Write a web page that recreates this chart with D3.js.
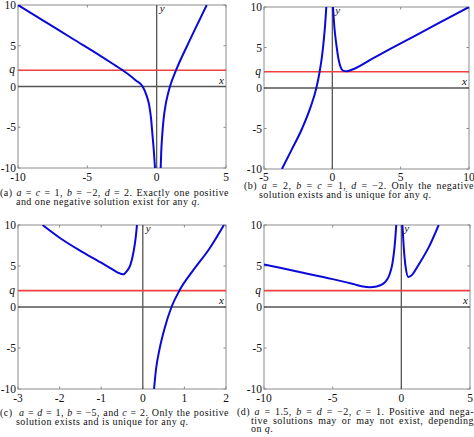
<!DOCTYPE html>
<html>
<head>
<meta charset="utf-8">
<script src="https://cdn.jsdelivr.net/npm/d3@7"></script>
<style>
  body { margin: 0; background: #fff; }
  svg { display: block; }
  text { font-family: "Liberation Serif", "DejaVu Serif", serif; fill: #111; }
</style>
</head>
<body>
<svg id="chart" width="474" height="437"></svg>
<script>

// ---- data ----
const yTicks = [-10, -5, 0, 5, 10];
const qValue = 2;

const xDomainA = [-10, 5], xTicksA = [-10, -5, 0, 5];
const curveA = [
  [[-10, 10], [-8, 7.9], [-6, 5.8], [-4, 3.7], [-3, 2.6], [-2.46, 2], [-2, 1.45], [-1.5, 0.75],
   [-1.01, 0], [-0.75, -1], [-0.55, -2.2], [-0.4, -4], [-0.3, -6], [-0.2, -8], [-0.12, -10]],
  [[0.29, -10], [0.33, -8], [0.4, -6], [0.5, -4], [0.65, -2.2], [0.8, -1], [0.96, 0],
   [1.4, 2], [2.2, 5], [2.9, 7.5], [3.61, 10]]
];

const xDomainB = [-5, 10], xTicksB = [-5, 0, 5, 10];
const curveB = [
  [[-3.69, -10], [-3, -7.7], [-2.21, -5], [-1.6, -2.4], [-1.17, 0], [-0.93, 2], [-0.75, 4],
   [-0.62, 6], [-0.52, 8], [-0.44, 10]],
  [[0.05, 10], [0.15, 7.5], [0.3, 5.3], [0.45, 3.6], [0.6, 2.6], [0.78, 2.15], [1.05, 2.08],
   [1.42, 2.25], [3, 3.7], [5, 5.5], [7.5, 7.75], [10, 10]]
];

const xDomainC = [-3, 2], xTicksC = [-3, -2, -1, 0, 1, 2];
const curveC = [
  [[-2.41, 10], [-2, 8.45], [-1.5, 6.85], [-1, 5.4], [-0.75, 4.65], [-0.6, 4.2], [-0.47, 3.98],
   [-0.38, 4.4], [-0.3, 5.1], [-0.22, 6.8], [-0.17, 8.5], [-0.14, 10]],
  [[0.27, -10], [0.32, -7.5], [0.4, -5.2], [0.53, -2.5], [0.69, 0], [0.88, 2], [1.2, 4.4],
   [1.6, 7.1], [1.95, 10]]
];

const xDomainD = [-10, 5], xTicksD = [-10, -5, 0, 5];
const curveD = [
  [[-10, 5.2], [-7.5, 4.3], [-5, 3.4], [-3.5, 2.8], [-2.8, 2.5], [-2.3, 2.42], [-1.8, 2.5],
   [-1.4, 2.75], [-1.1, 3.2], [-0.85, 4], [-0.65, 5.3], [-0.5, 7.2], [-0.42, 8.8], [-0.37, 10]],
  [[0.08, 10], [0.18, 7.2], [0.32, 4.8], [0.51, 3.67], [0.8, 3.95], [1.2, 5], [2, 7.3], [2.72, 10]]
];

// captions: $..$ marks italic math
const captionA = ["(a) $a$ = $c$ = 1, $b$ = −2, $d$ = 2. Exactly one positive",
                  "and one negative solution exist for any $q$."];
const captionB = ["(b) $a$ = 2, $b$ = $c$ = 1, $d$ = −2. Only the negative",
                  "solution exists and is unique for any $q$."];
const captionC = ["(c)  $a$ = $d$ = 1, $b$ = −5, and $c$ = 2. Only the positive",
                  "solution exists and is unique for any $q$."];
const captionD = ["(d) $a$ = 1.5, $b$ = $d$ = −2, $c$ = 1. Positive and nega-",
                  "tive solutions may or may not exist, depending",
                  "on $q$."];

// ---- layout ----
const panels = [
  {x0: 18, x1: 226, y0: 5, y1: 168, xd: xDomainA, xt: xTicksA, curve: curveA, cap: captionA,
   capX: 0, capW: 229, capY: 195.5, lead: 9.8, indent: 16, tickDy: 12.5},
  {x0: 264, x1: 469, y0: 7, y1: 169, xd: xDomainB, xt: xTicksB, curve: curveB, cap: captionB,
   capX: 244, capW: 230, capY: 188.5, lead: 9.8, indent: 15, tickDy: 11.5},
  {x0: 18, x1: 226, y0: 225, y1: 389, xd: xDomainC, xt: xTicksC, curve: curveC, cap: captionC,
   capX: 0, capW: 229, capY: 415.5, lead: 9.2, indent: 16, tickDy: 12.5},
  {x0: 264, x1: 470, y0: 225, y1: 389, xd: xDomainD, xt: xTicksD, curve: curveD, cap: captionD,
   capX: 237, capW: 237, capY: 415, lead: 8.7, indent: 14, tickDy: 12.5}
];

const svg = d3.select("#chart");
const tickLen = 2.5;
const capSize = 10;
const capTracking = 0.45;

panels.forEach(function(p, i) {
  const x = d3.scaleLinear().domain(p.xd).range([p.x0, p.x1]);
  const y = d3.scaleLinear().domain([-10, 10]).range([p.y1, p.y0]);
  const g = svg.append("g");

  g.append("clipPath").attr("id", "clip" + i)
    .append("rect")
      .attr("x", p.x0).attr("y", p.y0)
      .attr("width", p.x1 - p.x0).attr("height", p.y1 - p.y0);

  // frame
  g.append("rect")
    .attr("x", p.x0).attr("y", p.y0)
    .attr("width", p.x1 - p.x0).attr("height", p.y1 - p.y0)
    .attr("fill", "none").attr("stroke", "#8c8c8c").attr("stroke-width", 1);

  // inward ticks on all sides
  p.xt.forEach(function(t) {
    g.append("line").attr("x1", x(t)).attr("x2", x(t)).attr("y1", p.y1).attr("y2", p.y1 - tickLen)
      .attr("stroke", "#8c8c8c");
    g.append("line").attr("x1", x(t)).attr("x2", x(t)).attr("y1", p.y0).attr("y2", p.y0 + tickLen)
      .attr("stroke", "#8c8c8c");
  });
  yTicks.concat([qValue]).forEach(function(t) {
    g.append("line").attr("x1", p.x0).attr("x2", p.x0 + tickLen).attr("y1", y(t)).attr("y2", y(t))
      .attr("stroke", "#8c8c8c");
    g.append("line").attr("x1", p.x1).attr("x2", p.x1 - tickLen).attr("y1", y(t)).attr("y2", y(t))
      .attr("stroke", "#8c8c8c");
  });

  // tick labels
  g.selectAll("text.xt").data(p.xt).enter().append("text")
    .attr("class", "xt")
    .attr("x", x).attr("y", p.y1 + p.tickDy)
    .attr("text-anchor", "middle").attr("font-size", 11.5)
    .text(d => d < 0 ? "-" + (-d) : d);
  g.selectAll("text.yt").data(yTicks).enter().append("text")
    .attr("class", "yt")
    .attr("x", p.x0 - 2).attr("y", d => y(d) + 4)
    .attr("text-anchor", "end").attr("font-size", 11.5)
    .text(d => d < 0 ? "-" + (-d) : d);
  g.append("text")
    .attr("x", p.x0 - 3).attr("y", y(qValue) + 3)
    .attr("text-anchor", "end").attr("font-size", 11.5).attr("font-style", "italic")
    .text("q");

  // coordinate axes
  g.append("line").attr("x1", p.x0).attr("x2", p.x1).attr("y1", y(0)).attr("y2", y(0))
    .attr("stroke", "#555").attr("stroke-width", 1.3);
  g.append("line").attr("x1", x(0)).attr("x2", x(0)).attr("y1", p.y0).attr("y2", p.y1)
    .attr("stroke", "#555").attr("stroke-width", 1.3);
  g.append("text").attr("x", p.x1 - 2).attr("y", y(0) - 3)
    .attr("text-anchor", "end").attr("font-size", 11).attr("font-style", "italic").text("x");
  g.append("text").attr("x", x(0) + 3).attr("y", p.y0 + 7)
    .attr("font-size", 11).attr("font-style", "italic").text("y");

  // q line
  g.append("line").attr("x1", p.x0).attr("x2", p.x1).attr("y1", y(qValue)).attr("y2", y(qValue))
    .attr("stroke", "#f04040").attr("stroke-width", 1.6);

  // curve branches
  const line = d3.line().x(d => x(d[0])).y(d => y(d[1])).curve(d3.curveMonotoneX);
  g.append("g").attr("clip-path", "url(#clip" + i + ")")
    .selectAll("path").data(p.curve).enter().append("path")
      .attr("d", line)
      .attr("fill", "none").attr("stroke", "#0a0ad8").attr("stroke-width", 2);

  // caption, justified by word spacing except the last line
  p.cap.forEach(function(str, k) {
    const last = k === p.cap.length - 1;
    const lx = k === 0 ? p.capX : p.capX + p.indent;
    const t = g.append("text")
      .attr("x", lx).attr("y", p.capY + k * p.lead)
      .attr("font-size", capSize)
      .attr("letter-spacing", capTracking)
      .style("white-space", "pre");
    str.split(/(\$[^$]+\$)/).forEach(function(seg) {
      if (!seg) return;
      const it = seg[0] === "$";
      t.append("tspan").attr("font-style", it ? "italic" : null)
        .text(it ? seg.slice(1, -1) : seg);
    });
    if (!last) {
      const natural = t.node().getComputedTextLength();
      const gaps = (str.match(/ /g) || []).length;
      const extra = (p.capX + p.capW - lx - natural) / gaps;
      t.attr("word-spacing", extra);
    }
  });
});

</script>
</body>
</html>
